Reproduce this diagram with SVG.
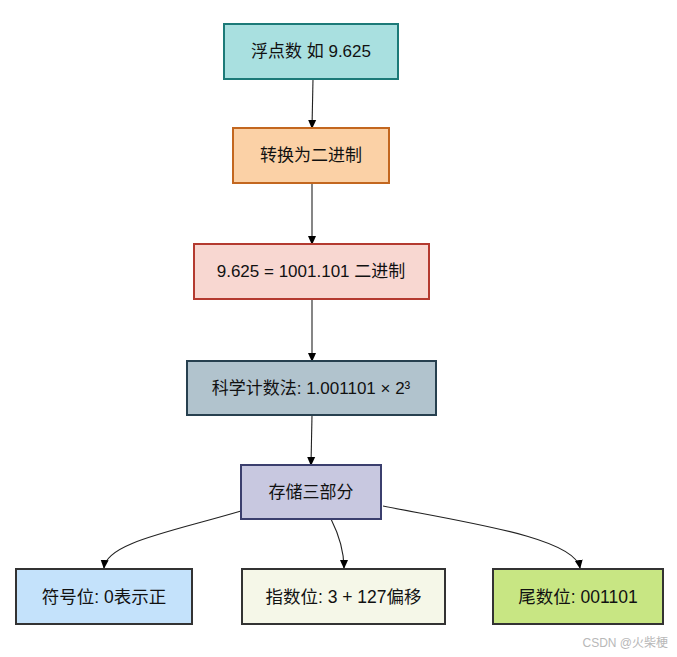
<svg xmlns="http://www.w3.org/2000/svg" width="677" height="657" viewBox="0 0 677 657">
<defs>
<marker id="arr" markerWidth="10" markerHeight="10" refX="8" refY="5" orient="auto" markerUnits="userSpaceOnUse">
<path d="M0,1 L9,5 L0,9 Z" fill="#000"/>
</marker>
<style>
.n{stroke-width:2}
.t{font-family:"Liberation Sans","Noto Sans CJK SC",sans-serif;font-size:17px;fill:#111;text-anchor:middle;dominant-baseline:central}
.b{font-size:17.5px}
.e{fill:none;stroke:#222;stroke-width:1.1;marker-end:url(#arr)}
</style>
</defs>
<rect width="677" height="657" fill="#fff"/>
<g id="connectors">
<path class="e" d="M313,79 L312,128"/>
<path class="e" d="M312,183 L312,244"/>
<path class="e" d="M312,299 L312,361"/>
<path class="e" d="M312,415 L311,465"/>
<path class="e" d="M241,511 C170,532 106,543 104,568"/>
<path class="e" d="M331,519 C338,533 344,548 344,568"/>
<path class="e" d="M383,506 C470,523 575,538 580,568"/>
</g>
<g id="n1"><rect class="n" x="224" y="24" width="174" height="55" fill="#a9e0e0" stroke="#1c7a78"/><text class="t" x="311" y="51.5">浮点数 如 9.625</text></g>
<g id="n2"><rect class="n" x="233" y="128" width="156" height="55" fill="#fbd1a6" stroke="#c3671f"/><text class="t" x="311" y="155.5">转换为二进制</text></g>
<g id="n3"><rect class="n" x="194" y="244" width="235" height="55" fill="#f8d7d1" stroke="#b43a30"/><text class="t" x="311" y="271.5">9.625 = 1001.101 二进制</text></g>
<g id="n4"><rect class="n" x="187" y="361" width="249" height="54" fill="#b1c3cd" stroke="#27404f"/><text class="t" x="311" y="388">科学计数法: 1.001101 × 2³</text></g>
<g id="n5"><rect class="n" x="241" y="465" width="140" height="54" fill="#c8c8e0" stroke="#3b3f6e"/><text class="t" x="311" y="492">存储三部分</text></g>
<g id="n6"><rect class="n" x="16" y="569" width="176" height="55" fill="#c4e2fb" stroke="#333"/><text class="t b" x="104" y="596.5">符号位: 0表示正</text></g>
<g id="n7"><rect class="n" x="242" y="569" width="203" height="55" fill="#f5f7e8" stroke="#333"/><text class="t b" x="343.5" y="596.5">指数位: 3 + 127偏移</text></g>
<g id="n8"><rect class="n" x="493" y="569" width="170" height="55" fill="#c8e683" stroke="#333"/><text class="t b" x="578" y="596.5">尾数位: 001101</text></g>
<text x="668" y="643" font-family="'Liberation Sans','Noto Sans CJK SC',sans-serif" font-size="12" fill="#b8b8b8" text-anchor="end" dominant-baseline="central">CSDN @火柴梗</text>
</svg>
